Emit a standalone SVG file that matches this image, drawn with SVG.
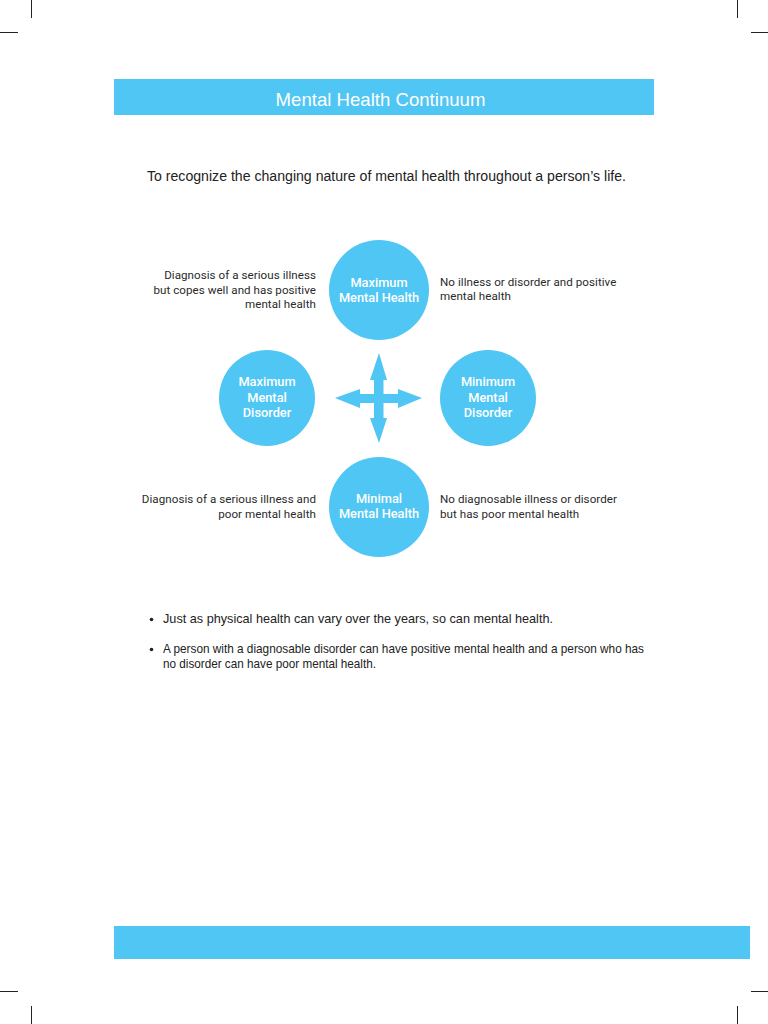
<svg xmlns="http://www.w3.org/2000/svg" width="768" height="1024" viewBox="0 0 768 1024">
<style>
.bar{fill:#4FC6F3}
.node{fill:#4FC6F3}
.crop{stroke:#222;stroke-width:1}
.lbl{font-family:Roboto,"Open Sans",sans-serif;font-size:11.6px;fill:#2a2a2a;letter-spacing:0.05px}
.nlbl{font-family:Roboto,"Open Sans",sans-serif;font-size:12.8px;font-weight:500;fill:#ffffff;text-anchor:middle}
.body{font-family:"Liberation Sans",Arial,sans-serif;fill:#222}
</style>
<rect width="768" height="1024" fill="#ffffff"/>
<g id="cropmarks" class="crop">
<line x1="31.5" y1="0" x2="31.5" y2="18"/>
<line x1="0" y1="32.5" x2="18" y2="32.5"/>
<line x1="737.5" y1="0" x2="737.5" y2="18"/>
<line x1="751" y1="32.5" x2="768" y2="32.5"/>
<line x1="31.5" y1="1006" x2="31.5" y2="1024"/>
<line x1="0" y1="991.5" x2="18" y2="991.5"/>
<line x1="737.5" y1="1006" x2="737.5" y2="1024"/>
<line x1="751" y1="991.5" x2="768" y2="991.5"/>
</g>
<g id="header">
<rect class="bar" x="114" y="79" width="540" height="36"/>
<text x="380.5" y="106" font-family="Liberation Sans,Arial,sans-serif" font-size="18.6" fill="#ffffff" text-anchor="middle">Mental Health Continuum</text>
</g>
<text class="body" x="147" y="181" font-size="14" textLength="479" lengthAdjust="spacingAndGlyphs">To recognize the changing nature of mental health throughout a person’s life.</text>
<g id="connectors">
<polygon fill="#4FC6F3" points="379,353 387,380 383.5,380 383.5,394 398,394 398,389 422,398 398,408 398,403 383.5,403 383.5,418 387,418 379,443 370,418 374,418 374,403 360,403 360,408 335,398 360,389 360,394 374,394 374,380 370,380"/>
</g>
<g id="node-max-health">
<circle class="node" cx="379" cy="290" r="50"/>
<text class="nlbl" x="379" y="287">Maximum</text>
<text class="nlbl" x="379" y="302">Mental Health</text>
</g>
<g id="node-max-disorder">
<circle class="node" cx="267" cy="398" r="48"/>
<text class="nlbl" x="267" y="386">Maximum</text>
<text class="nlbl" x="267" y="402">Mental</text>
<text class="nlbl" x="267" y="417">Disorder</text>
</g>
<g id="node-min-disorder">
<circle class="node" cx="488" cy="398" r="48"/>
<text class="nlbl" x="488" y="386">Minimum</text>
<text class="nlbl" x="488" y="402">Mental</text>
<text class="nlbl" x="488" y="417">Disorder</text>
</g>
<g id="node-min-health">
<circle class="node" cx="379" cy="507" r="50"/>
<text class="nlbl" x="379" y="503">Minimal</text>
<text class="nlbl" x="379" y="518">Mental Health</text>
</g>
<g id="quadrant-labels">
<text class="lbl" x="316" y="279" text-anchor="end">Diagnosis of a serious illness</text>
<text class="lbl" x="316" y="294" text-anchor="end">but copes well and has positive</text>
<text class="lbl" x="316" y="308" text-anchor="end">mental health</text>
<text class="lbl" x="440" y="286">No illness or disorder and positive</text>
<text class="lbl" x="440" y="300">mental health</text>
<text class="lbl" x="316" y="503" text-anchor="end">Diagnosis of a serious illness and</text>
<text class="lbl" x="316" y="518" text-anchor="end">poor mental health</text>
<text class="lbl" x="440" y="503">No diagnosable illness or disorder</text>
<text class="lbl" x="440" y="518">but has poor mental health</text>
</g>
<g id="bullets">
<circle cx="151.5" cy="619.5" r="1.8" fill="#222"/>
<text class="body" x="163" y="623" font-size="12.4" textLength="390" lengthAdjust="spacingAndGlyphs">Just as physical health can vary over the years, so can mental health.</text>
<circle cx="151.5" cy="649.5" r="1.8" fill="#222"/>
<text class="body" x="163" y="653" font-size="12.4" textLength="481" lengthAdjust="spacingAndGlyphs">A person with a diagnosable disorder can have positive mental health and a person who has</text>
<text class="body" x="163" y="668" font-size="12.4" textLength="213" lengthAdjust="spacingAndGlyphs">no disorder can have poor mental health.</text>
</g>
<g id="footer">
<rect class="bar" x="114" y="926" width="636" height="33"/>
</g>
</svg>
